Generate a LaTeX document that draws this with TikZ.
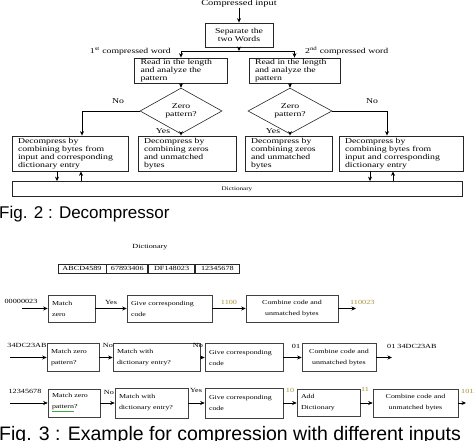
\documentclass[tikz,border=0pt]{standalone}
\usepackage{fontspec}
\setmainfont{Liberation Serif}
\newfontfamily\diagfamily{Liberation Serif}[FakeStretch=1.3]
\newfontfamily\capfamily{Liberation Sans}
\usepackage{tikz}
\usetikzlibrary{arrows.meta,shapes.geometric,positioning,calc}
\usepackage{xcolor}
\definecolor{lbyellow}{RGB}{165,145,50}
\definecolor{lbgreen}{RGB}{60,170,60}
\newcommand{\figtwotext}{\diagfamily\fontsize{7.5}{8}\selectfont\hyphenpenalty=10000}
\newcommand{\figthreetext}{\diagfamily\fontsize{6.1}{11}\selectfont\hyphenpenalty=10000}
\newcommand{\smalltext}{\diagfamily\fontsize{6.3}{7}\selectfont}
\tikzstyle{arrow} = [line width=0.7pt,-{Stealth[length=4.5pt,width=4pt]}]
\tikzstyle{line} = [line width=0.7pt]
\tikzstyle{decbox} = [rectangle, draw=black!85, line width=0.8pt, font=\figtwotext, align=left, inner xsep=6pt, inner ysep=1pt]
\tikzstyle{exbox} = [rectangle, draw=black!75, line width=0.6pt, font=\figthreetext, align=left, inner xsep=4pt, inner ysep=1pt]
\tikzstyle{decision} = [diamond, draw=black!85, line width=0.6pt, inner sep=0pt, font=\figtwotext, align=center]
\tikzstyle{lbl} = [font=\figtwotext, inner sep=0pt]
\tikzstyle{exlbl} = [font=\smalltext, inner sep=0pt]
\tikzstyle{dictcell} = [rectangle, draw=black!85, line width=0.8pt, minimum height=9pt, inner sep=0pt, font=\smalltext]

\begin{document}
\begin{tikzpicture}[x=1pt, y=-1pt]
    \useasboundingbox (0,0) rectangle (474,441);

    % Decompressor
    \node[lbl, font=\diagfamily\fontsize{8}{9}\selectfont] (input) at (239,4) {Compressed input};
    \node[decbox, align=center, minimum width=68, minimum height=24] (sep) at (239,35) {Separate the\\two Words};
    \coordinate (split) at (239,51);

    % Read boxes
    \node[decbox, text width=81, minimum height=25] (read1) at (181,70.5) {Read in the length\\and analyze the\\pattern};
    \node[decbox, text width=79, minimum height=25] (read2) at (294.5,70.5) {Read in the length\\and analyze the\\pattern};
    \node[lbl, anchor=east] (word1) at (171,51) {1\textsuperscript{st} compressed word};
    \node[lbl, anchor=west] (word2) at (305,51) {2\textsuperscript{nd} compressed word};

    % Zero pattern decisions
    \node[decision, minimum width=82, minimum height=32] (zero1) at (181,111) {Zero\\pattern?};
    \node[decision, minimum width=84, minimum height=32] (zero2) at (290,111) {Zero\\pattern?};

    % Decompress boxes
    \node[decbox, text width=104, minimum height=35] (dec1) at (70,153.5) {Decompress by\\combining bytes from\\input and corresponding\\dictionary entry};
    \node[decbox, text width=86, minimum height=35] (dec2) at (187,153.5) {Decompress by\\combining zeros\\and unmatched\\bytes};
    \node[decbox, text width=75, minimum height=35] (dec3) at (288.5,153.5) {Decompress by\\combining zeros\\and unmatched\\bytes};
    \node[decbox, text width=112, minimum height=35] (dec4) at (401,153.5) {Decompress by\\combining bytes from\\input and corresponding\\dictionary entry};

    % Dictionary
    \node[decbox, align=center, minimum width=450, minimum height=15, font=\diagfamily\fontsize{5.5}{6}\selectfont] (dict) at (237,189) {Dictionary};

    % Arrows
    \draw[arrow] (input) -- (sep);
    \draw[arrow] (sep) -- (split);
    \draw[line] (read1.north |- split) -- (read2.north |- split);
    \draw[arrow] (read1.north |- split) -- (read1);
    \draw[arrow] (read2.north |- split) -- (read2);
    \draw[arrow] (read1) -- (zero1);
    \draw[arrow] (zero2.north |- read2.south) -- (zero2);

    \draw[arrow] (zero1.west) -| ([xshift=12]dec1.north);
    \node[lbl] (no1) at (118,101) {No};
    \draw[arrow] (zero1.south) -- (zero1.south |- dec2.north);
    \node[lbl] (yes1) at (163,131) {Yes};
    \draw[arrow] (zero2.south) -- (zero2.south |- dec3.north);
    \node[lbl] (yes2) at (273,131) {Yes};
    \draw[arrow] (zero2.east) -| ([xshift=-14]dec4.north);
    \node[lbl] (no2) at (372,101) {No};

    \draw[arrow] ([xshift=-13]dec1.south) -- ([xshift=-13]dec1.south |- dict.north);
    \draw[arrow] ([xshift=11]dec1.south |- dict.north) -- ([xshift=11]dec1.south);
    \draw[arrow] ([xshift=-31]dec4.south) -- ([xshift=-31]dec4.south |- dict.north);
    \draw[arrow] ([xshift=-8]dec4.south |- dict.north) -- ([xshift=-8]dec4.south);

    \node[anchor=base west, inner sep=0pt, font=\capfamily\fontsize{17}{20}\selectfont] (cap2) at (-1,218) {Fig. 2 : Decompressor};

    % Example dictionary
    \node[exlbl] (dicttitle) at (150,247) {Dictionary};
    \node[dictcell, minimum width=48] (dictA) at (82,268.5) {ABCD4589};
    \node[dictcell, minimum width=41, right=0pt of dictA] (dictB) {67893406};
    \node[dictcell, minimum width=46, right=0pt of dictB] (dictC) {DF148023};
    \node[dictcell, minimum width=44, right=0pt of dictC] (dictD) {12345678};

    % Input 00000023
    \coordinate (start1) at (22,308.5);
    \node[exlbl] (in1) at (21,301) {00000023};
    \node[exbox, text width=39, minimum height=27] (zero3) at (71.5,308.5) {Match\\zero};
    \node[exbox, text width=77, minimum height=27] (code1) at (169.5,308.5) {Give corresponding\\code};
    \node[exbox, align=center, text width=84, minimum height=27] (comb1) at (292,308.5) {Combine code and\\unmatched bytes};
    \coordinate (end1) at (356,308.5);
    \draw[arrow] (start1) -- (zero3);
    \draw[arrow] (zero3) -- (code1) node[exlbl, midway, above=4pt] (yes3) {Yes};
    \draw[arrow] (code1) -- (comb1) node[exlbl, midway, above=4pt, text=lbyellow] (code1out) {1100};
    \draw[arrow] (comb1) -- (end1);
    \node[exlbl, anchor=west, text=lbyellow] (out1) at (350,302) {110023};

    % Input 34DC23AB
    \coordinate (start2) at (10,357.5);
    \node[exlbl] (in2) at (27,345) {34DC23AB};
    \node[exbox, text width=44, minimum height=28] (zero4) at (73,357.5) {Match zero\\pattern?};
    \node[exbox, text width=79, minimum height=28] (match2) at (156.5,357.5) {Match with\\dictionary entry?};
    \node[exbox, text width=70, minimum height=28] (code2) at (244,357.5) {Give corresponding\\code};
    \node[exbox, align=center, text width=66, minimum height=28] (comb2) at (339,357.5) {Combine code and\\unmatched bytes};
    \coordinate (end2) at (392,357.5);
    \draw[arrow] (start2) -- (zero4);
    \draw[arrow] (zero4) -- (match2);
    \node[exlbl] (no3) at (108,345) {No};
    \draw[arrow] (match2) -- (code2);
    \node[exlbl] (no4) at (198,345) {No};
    \draw[arrow] (code2) -- (comb2);
    \node[exlbl] (code2out) at (296,346) {01};
    \draw[arrow] (comb2) -- (end2);
    \node[exlbl, anchor=west] (out2) at (387,346) {01 34DC23AB};

    % Input 12345678
    \coordinate (start3) at (10,403);
    \node[exlbl] (in3) at (25,391) {12345678};
    \node[exbox, text width=44, minimum height=28] (zero5) at (74,403) {Match zero\\{\color{lbgreen}\underline{\textcolor{black}{pattern}}}?};
    \node[exbox, text width=65, minimum height=30] (match3) at (151.5,403) {Match with\\dictionary entry?};
    \node[exbox, text width=70, minimum height=30] (code3) at (244,403) {Give corresponding\\code};
    \node[exbox, text width=55, minimum height=27] (adddict) at (328.5,403) {Add\\Dictionary};
    \node[exbox, align=center, text width=77, minimum height=28] (comb3) at (415.5,403) {Combine code and\\unmatched bytes};
    \coordinate (end3) at (466,403);
    \draw[arrow] (start3) -- (zero5);
    \draw[arrow] (zero5) -- (match3);
    \node[exlbl] (no5) at (109,392) {No};
    \draw[arrow] (match3) -- (code3);
    \node[exlbl] (yes4) at (196,390) {Yes};
    \draw[arrow] (code3) -- (adddict);
    \node[exlbl, text=lbyellow] (code3out) at (290,390) {10};
    \draw[arrow] (adddict) -- (comb3);
    \node[exlbl, text=lbyellow] (addout) at (365,389) {11};
    \draw[arrow] (comb3) -- (end3);
    \node[exlbl, anchor=west, text=lbyellow] (out3) at (461,391) {1012};

    \node[anchor=base west, inner sep=0pt, font=\capfamily\fontsize{19.5}{22}\selectfont] (cap3) at (-1,440) {Fig. 3 : Example for compression with different inputs};
\end{tikzpicture}
\end{document}
